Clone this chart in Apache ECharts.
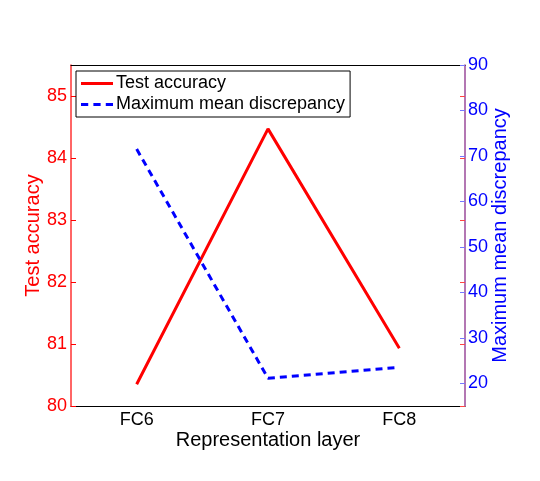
<!DOCTYPE html>
<html>
<head>
<meta charset="utf-8">
<script src="https://cdn.jsdelivr.net/npm/echarts@6/dist/echarts.min.js"></script>
<style>
html, body { margin: 0; padding: 0; background: #fff; }
#chart { width: 540px; height: 481px; }
</style>
</head>
<body>
<div id="chart"></div>
<script>
var layers = ['FC6', 'FC7', 'FC8'];
var accuracy = [80.35, 84.47, 80.93];
var mmd = [71.5, 21.1, 23.5];
var accTicks = [80, 81, 82, 83, 84, 85];
var mmdTicks = [20, 30, 40, 50, 60, 70, 80, 90];

var myChart = echarts.init(document.getElementById('chart'));
var font = 'Liberation Sans, Arial, sans-serif';

var option = {
    animation: false,
    backgroundColor: '#fff',
    grid: { left: 71, right: 75, top: 65, bottom: 75 },
    legend: {
        orient: 'vertical',
        left: 76,
        top: 71,
        padding: [2, 5, 2, 5],
        itemGap: 0,
        itemWidth: 32,
        itemHeight: 14,
        borderColor: '#000',
        borderWidth: 1,
        backgroundColor: '#fff',
        borderRadius: 0,
        textStyle: { fontFamily: font, fontSize: 18, color: '#000', padding: [0, 0, 0, -2], lineHeight: 21 },
        data: [
            { name: 'Test accuracy', icon: 'path://M0,6 L32,6 L32,9 L0,9 Z' },
            { name: 'Maximum mean discrepancy', icon: 'path://M0,6 L7,6 L7,9 L0,9 Z M12,6 L19,6 L19,9 L12,9 Z M24,6 L31,6 L31,9 L24,9 Z' }
        ]
    },
    xAxis: [{
        type: 'category',
        data: layers,
        boundaryGap: true,
        name: 'Representation layer',
        nameLocation: 'middle',
        nameGap: 24,
        nameMoveOverlap: false,
        nameTextStyle: { fontFamily: font, fontSize: 20, color: '#000' },
        axisLine: { lineStyle: { color: '#000', width: 1 } },
        axisTick: { inside: true, alignWithLabel: true, length: 5, lineStyle: { color: '#000' } },
        axisLabel: { fontFamily: font, fontSize: 18, color: '#000', margin: 5 },
        splitLine: { show: false }
    }, {
        type: 'category',
        data: layers,
        position: 'top',
        boundaryGap: true,
        axisLine: { lineStyle: { color: '#000', width: 1 } },
        axisTick: { inside: true, alignWithLabel: true, length: 5, lineStyle: { color: '#000' } },
        axisLabel: { show: false },
        splitLine: { show: false }
    }],
    yAxis: [{
        type: 'value',
        position: 'left',
        min: 80,
        max: 85.5,
        name: 'Test accuracy',
        nameLocation: 'middle',
        nameGap: 28,
        nameMoveOverlap: false,
        nameTextStyle: { fontFamily: font, fontSize: 20, color: '#ff0000' },
        axisLine: { show: true, lineStyle: { color: '#ff3333', width: 1.5 } },
        axisTick: { show: true, inside: true, length: 5, customValues: accTicks, lineStyle: { color: '#ff0000' } },
        axisLabel: { fontFamily: font, fontSize: 18, color: '#ff0000', margin: 4, customValues: accTicks },
        splitLine: { show: false }
    }, {
        type: 'value',
        position: 'right',
        min: 15,
        max: 90,
        name: 'Maximum mean discrepancy',
        nameLocation: 'middle',
        nameGap: 25,
        nameMoveOverlap: false,
        nameTextStyle: { fontFamily: font, fontSize: 20, color: '#0000ff' },
        axisLine: { show: false },
        axisTick: { show: true, inside: true, length: 5, customValues: mmdTicks, lineStyle: { color: '#7777ff' } },
        axisLabel: { fontFamily: font, fontSize: 18, color: '#0000ff', margin: 3, customValues: mmdTicks },
        splitLine: { show: false }
    }, {
        type: 'value',
        position: 'right',
        min: 80,
        max: 85.5,
        axisLine: { show: true, lineStyle: { color: '#9a4a9a', width: 1.5 } },
        axisTick: { show: true, inside: true, length: 5, customValues: accTicks, lineStyle: { color: '#ff4444' } },
        axisLabel: { show: false },
        splitLine: { show: false }
    }],
    series: [{
        name: 'Test accuracy',
        type: 'line',
        xAxisIndex: 0,
        yAxisIndex: 0,
        data: accuracy,
        symbol: 'none',
        color: '#ff0000',
        lineStyle: { color: '#ff0000', width: 3 }
    }, {
        name: 'Maximum mean discrepancy',
        type: 'line',
        xAxisIndex: 0,
        yAxisIndex: 1,
        data: mmd,
        symbol: 'none',
        color: '#0000ff',
        lineStyle: { color: '#0000ff', width: 3, type: [7, 5] }
    }]
};
myChart.setOption(option);
</script>
</body>
</html>
